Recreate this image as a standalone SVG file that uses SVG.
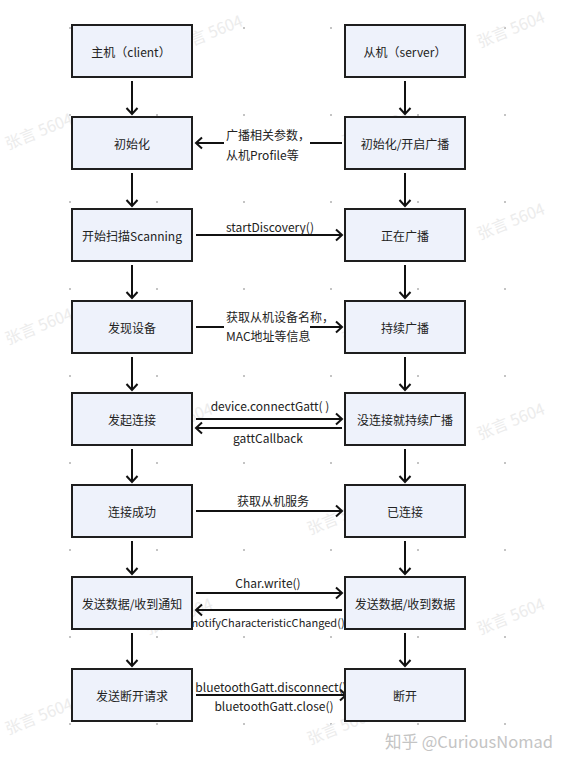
<svg xmlns="http://www.w3.org/2000/svg" width="568" height="767" viewBox="0 0 568 767">
<style>
.box{fill:#eef2fb;stroke:#1e1e1e;stroke-width:2}
.t{font-family:"Noto Sans CJK SC","Noto Sans",sans-serif;font-size:12px;fill:#222;text-anchor:middle;dominant-baseline:central}
.l{font-family:"Noto Sans CJK SC","Noto Sans",sans-serif;font-size:12px;fill:#222}
.c{text-anchor:middle}
.ln{stroke:#111;stroke-width:2;fill:none}
.wm{font-family:"Noto Sans CJK SC","Noto Sans",sans-serif;font-size:16px;fill:#ececec}
.dot{fill:#b0b0b0}
</style>
<defs>
<marker id="ah" markerUnits="userSpaceOnUse" markerWidth="16" markerHeight="16" viewBox="-8 -8 16 16" refX="0" refY="0" orient="auto">
<path d="M-6,-5.5 L0,0 L-6,5.5" fill="none" stroke="#111" stroke-width="2"/>
</marker>
</defs>
<rect width="568" height="767" fill="#fff"/>
<g id="grid">
<g class="dot">
<circle cx="70" cy="28" r="1"/><circle cx="157" cy="28" r="1"/><circle cx="244" cy="28" r="1"/><circle cx="331" cy="28" r="1"/><circle cx="418" cy="28" r="1"/><circle cx="505" cy="28" r="1"/>
<circle cx="70" cy="115" r="1"/><circle cx="157" cy="115" r="1"/><circle cx="244" cy="115" r="1"/><circle cx="331" cy="115" r="1"/><circle cx="418" cy="115" r="1"/><circle cx="505" cy="115" r="1"/>
<circle cx="70" cy="202" r="1"/><circle cx="157" cy="202" r="1"/><circle cx="244" cy="202" r="1"/><circle cx="331" cy="202" r="1"/><circle cx="418" cy="202" r="1"/><circle cx="505" cy="202" r="1"/>
<circle cx="70" cy="289" r="1"/><circle cx="157" cy="289" r="1"/><circle cx="244" cy="289" r="1"/><circle cx="331" cy="289" r="1"/><circle cx="418" cy="289" r="1"/><circle cx="505" cy="289" r="1"/>
<circle cx="70" cy="376" r="1"/><circle cx="157" cy="376" r="1"/><circle cx="244" cy="376" r="1"/><circle cx="331" cy="376" r="1"/><circle cx="418" cy="376" r="1"/><circle cx="505" cy="376" r="1"/>
<circle cx="70" cy="463" r="1"/><circle cx="157" cy="463" r="1"/><circle cx="244" cy="463" r="1"/><circle cx="331" cy="463" r="1"/><circle cx="418" cy="463" r="1"/><circle cx="505" cy="463" r="1"/>
<circle cx="70" cy="550" r="1"/><circle cx="157" cy="550" r="1"/><circle cx="244" cy="550" r="1"/><circle cx="331" cy="550" r="1"/><circle cx="418" cy="550" r="1"/><circle cx="505" cy="550" r="1"/>
<circle cx="70" cy="637" r="1"/><circle cx="157" cy="637" r="1"/><circle cx="244" cy="637" r="1"/><circle cx="331" cy="637" r="1"/><circle cx="418" cy="637" r="1"/><circle cx="505" cy="637" r="1"/>
<circle cx="70" cy="724" r="1"/><circle cx="157" cy="724" r="1"/><circle cx="244" cy="724" r="1"/><circle cx="331" cy="724" r="1"/><circle cx="418" cy="724" r="1"/><circle cx="505" cy="724" r="1"/>
</g>
</g>
<g id="watermarks" class="wm">
<text transform="translate(178,52) rotate(-22)">张言 5604</text>
<text transform="translate(480,48) rotate(-22)">张言 5604</text>
<text transform="translate(8,150) rotate(-22)">张言 5604</text>
<text transform="translate(345,148) rotate(-22)">张言 5604</text>
<text transform="translate(480,240) rotate(-22)">张言 5604</text>
<text transform="translate(8,345) rotate(-22)">张言 5604</text>
<text transform="translate(345,345) rotate(-22)">张言 5604</text>
<text transform="translate(148,440) rotate(-22)">张言 5604</text>
<text transform="translate(480,440) rotate(-22)">张言 5604</text>
<text transform="translate(310,535) rotate(-22)">张言 5604</text>
<text transform="translate(148,635) rotate(-22)">张言 5604</text>
<text transform="translate(480,635) rotate(-22)">张言 5604</text>
<text transform="translate(8,735) rotate(-22)">张言 5604</text>
<text transform="translate(310,745) rotate(-22)">张言 5604</text>
</g>
<g id="connectors">
<g class="ln" marker-end="url(#ah)">
<line x1="132" y1="81" x2="132" y2="114"/>
<line x1="132" y1="173" x2="132" y2="206"/>
<line x1="132" y1="265" x2="132" y2="298"/>
<line x1="132" y1="357" x2="132" y2="390"/>
<line x1="132" y1="449" x2="132" y2="482"/>
<line x1="132" y1="541" x2="132" y2="574"/>
<line x1="132" y1="633" x2="132" y2="666"/>
<line x1="405" y1="81" x2="405" y2="114"/>
<line x1="405" y1="173" x2="405" y2="206"/>
<line x1="405" y1="265" x2="405" y2="298"/>
<line x1="405" y1="357" x2="405" y2="390"/>
<line x1="405" y1="449" x2="405" y2="482"/>
<line x1="405" y1="541" x2="405" y2="574"/>
<line x1="405" y1="633" x2="405" y2="666"/>
<line x1="342" y1="143" x2="196" y2="143"/>
<line x1="196" y1="235" x2="342" y2="235"/>
<line x1="196" y1="327" x2="342" y2="327"/>
<line x1="196" y1="419" x2="342" y2="419"/>
<line x1="342" y1="428" x2="196" y2="428"/>
<line x1="196" y1="511" x2="342" y2="511"/>
<line x1="196" y1="593" x2="342" y2="593"/>
<line x1="342" y1="610" x2="196" y2="610"/>
<line x1="196" y1="695" x2="346" y2="695"/>
</g>
<rect x="224" y="125" width="86" height="40" fill="#fff"/>
<rect x="224" y="310" width="86" height="36" fill="#fff"/>
<text class="l" x="226" y="140">广播相关参数，</text>
<text class="l" x="226" y="160">从机Profile等</text>
<text class="l c" x="270" y="232">startDiscovery()</text>
<text class="l" x="226" y="322">获取从机设备名称，</text>
<text class="l" x="226" y="341">MAC地址等信息</text>
<text class="l c" x="270" y="411">device.connectGatt( )</text>
<text class="l c" x="268" y="443">gattCallback</text>
<text class="l c" x="273" y="506">获取从机服务</text>
<text class="l c" x="268" y="588">Char.write()</text>
<text class="l c" x="268" y="627" style="font-size:11px">notifyCharacteristicChanged()</text>
<text class="l c" x="271" y="692">bluetoothGatt.disconnect()</text>
<text class="l c" x="274" y="711">bluetoothGatt.close()</text>
</g>
<g id="n1"><rect class="box" x="72" y="25" width="120" height="52"/><text class="t" x="131" y="51">主机（client）</text></g>
<g id="n2"><rect class="box" x="345" y="25" width="120" height="52"/><text class="t" x="405" y="51">从机（server）</text></g>
<g id="n3"><rect class="box" x="72" y="117" width="120" height="52"/><text class="t" x="132" y="143">初始化</text></g>
<g id="n4"><rect class="box" x="345" y="117" width="120" height="52"/><text class="t" x="405" y="143">初始化/开启广播</text></g>
<g id="n5"><rect class="box" x="72" y="209" width="120" height="52"/><text class="t" x="132" y="235">开始扫描Scanning</text></g>
<g id="n6"><rect class="box" x="345" y="209" width="120" height="52"/><text class="t" x="405" y="235">正在广播</text></g>
<g id="n7"><rect class="box" x="72" y="301" width="120" height="52"/><text class="t" x="132" y="327">发现设备</text></g>
<g id="n8"><rect class="box" x="345" y="301" width="120" height="52"/><text class="t" x="405" y="327">持续广播</text></g>
<g id="n9"><rect class="box" x="72" y="393" width="120" height="52"/><text class="t" x="132" y="419">发起连接</text></g>
<g id="n10"><rect class="box" x="345" y="393" width="120" height="52"/><text class="t" x="405" y="419">没连接就持续广播</text></g>
<g id="n11"><rect class="box" x="72" y="485" width="120" height="52"/><text class="t" x="132" y="511">连接成功</text></g>
<g id="n12"><rect class="box" x="345" y="485" width="120" height="52"/><text class="t" x="405" y="511">已连接</text></g>
<g id="n13"><rect class="box" x="72" y="577" width="120" height="52"/><text class="t" x="132" y="603">发送数据/收到通知</text></g>
<g id="n14"><rect class="box" x="345" y="577" width="120" height="52"/><text class="t" x="405" y="603">发送数据/收到数据</text></g>
<g id="n15"><rect class="box" x="72" y="669" width="120" height="52"/><text class="t" x="132" y="695">发送断开请求</text></g>
<g id="n16"><rect class="box" x="345" y="669" width="120" height="52"/><text class="t" x="405" y="695">断开</text></g>
<text x="385" y="748" style="font-family:'Noto Sans CJK SC','Noto Sans',sans-serif;font-size:16.5px;fill:#c4c4c4">知乎 @CuriousNomad</text>
</svg>
